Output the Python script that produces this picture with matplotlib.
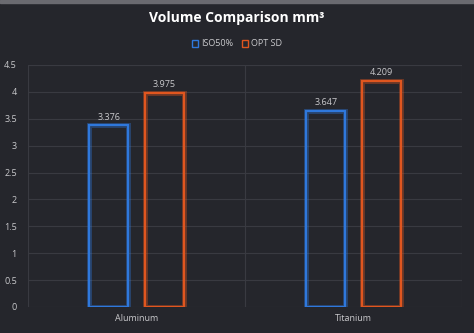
import numpy as np
import matplotlib.pyplot as plt
import matplotlib.patheffects as pe

# Volume data (mm^3)
materials = ["Aluminum", "Titanium"]
iso50 = [3.376, 3.647]
opt_sd = [3.975, 4.209]
series_names = ["ISO50%", "OPT SD"]
y_ticks = [0, 0.5, 1, 1.5, 2, 2.5, 3, 3.5, 4, 4.5]

BG = "#25262c"
GRID = "#393a41"
TEXT = "#c9c9cc"
BLUE = "#2f78dc"
ORANGE = "#e0561f"

plt.rcParams["font.family"] = ["Open Sans", "DejaVu Sans"]

fig = plt.figure(figsize=(4.74, 3.33), dpi=100, facecolor=BG)
ax = fig.add_axes([28 / 474, 1 - 307 / 333, 434 / 474, 242 / 333])
ax.set_facecolor(BG)

x = np.arange(len(materials))
width = 0.18
offset = 0.127

for vals, col, sign, name in [(iso50, BLUE, -1, series_names[0]),
                              (opt_sd, ORANGE, 1, series_names[1])]:
    bars = ax.bar(x + sign * offset, vals, width, facecolor="none",
                  edgecolor=col, linewidth=1.6, label=name, zorder=3)
    for b in bars:
        # soft glow around the outline
        b.set_path_effects([pe.Stroke(linewidth=3.6, foreground=col, alpha=0.35),
                            pe.Normal()])
    for xi, v in zip(x + sign * offset, vals):
        ax.text(xi, v + 0.07, f"{v:.3f}", ha="center", va="bottom",
                fontsize=6.5, color=TEXT, zorder=4)

ax.set_xlim(-0.5, 1.5)
ax.set_ylim(0, 4.5)
ax.set_yticks(y_ticks)
ax.set_yticklabels([f"{t:g}" for t in y_ticks])
ax.set_xticks(x)
ax.set_xticklabels(materials)
ax.tick_params(axis="both", length=0, colors=TEXT, labelsize=6.5)
ax.tick_params(axis="y", pad=8)
ax.tick_params(axis="x", pad=5)

ax.grid(axis="y", color=GRID, linewidth=0.8, zorder=0)
for xv in [-0.5, 0.5, 1.5]:
    ax.axvline(xv, color=GRID, linewidth=0.8, zorder=0)
for s in ax.spines.values():
    s.set_visible(False)

fig.text(0.5, 1 - 18 / 333, "Volume Comparison mm³", ha="center", va="center",
         fontsize=10, fontweight="bold", color="white")

leg = fig.legend(loc="center", bbox_to_anchor=(0.5, 1 - 44 / 333), ncol=2,
                 frameon=False, fontsize=6.5, handlelength=0.7, handleheight=0.8,
                 handletextpad=0.3, columnspacing=1.0, labelcolor=TEXT)
for h in leg.legend_handles:
    h.set_path_effects([])
    h.set_linewidth(1.0)

# thin light strip along the top edge
fig.patches.append(plt.Rectangle((0, 1 - 2.5 / 333), 1, 2.5 / 333,
                                 transform=fig.transFigure, color="#6a6a70"))

fig.savefig("out.png", dpi=100, facecolor=BG)
